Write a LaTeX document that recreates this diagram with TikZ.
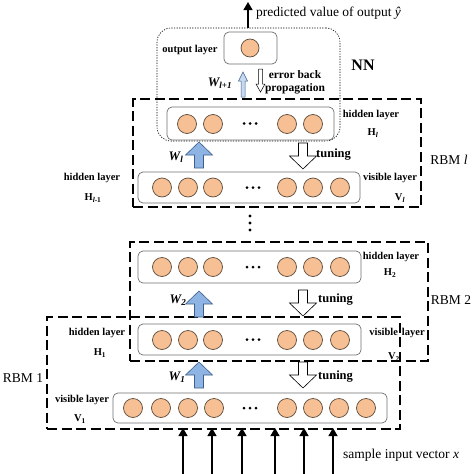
\documentclass[tikz,border=0pt]{standalone}
\usepackage{fontspec}
\setmainfont{Liberation Serif}
\usepackage{tikz}
\usetikzlibrary{arrows.meta, positioning}
\definecolor{unitFill}{HTML}{F7BF94}
\definecolor{unitEdge}{HTML}{5B4B3B}
\definecolor{layerGray}{HTML}{6E6E6E}
\definecolor{wBlue}{HTML}{8DB4E2}
\definecolor{wBlueEdge}{HTML}{3F5F8A}
\definecolor{wLight}{HTML}{C6D9F0}

\begin{document}
\begin{tikzpicture}[x=1pt, y=-1pt,
  layer/.style={draw=layerGray, rounded corners=5pt, line width=0.7pt, inner sep=0pt},
  unit/.style={circle, draw=unitEdge, fill=unitFill, minimum size=19pt, inner sep=0pt, line width=0.7pt},
  rbm/.style={draw, line width=2pt, dash pattern=on 10pt off 4.5pt, inner sep=0pt},
  lbl/.style={font=\fontsize{10.5}{12}\selectfont\bfseries, inner sep=0pt},
  big/.style={font=\fontsize{13.5}{15}\selectfont, inner sep=0pt},
  wlbl/.style={font=\fontsize{13}{14}\selectfont\bfseries\itshape, inner sep=0pt},
  tune/.style={font=\fontsize{12.5}{14}\selectfont\bfseries, anchor=west, inner sep=0pt},
  inarrow/.style={-{Triangle[length=8pt, width=9pt]}, line width=1.2pt},
  wup/.pic={\draw[line width=0.6pt, draw=wBlueEdge, fill=wBlue]
    (-4.5,0) -- (-4.5,-13) -- (-13.5,-13) -- (0,-26) -- (13.5,-13) -- (4.5,-13) -- (4.5,0) -- cycle;},
  tunedown/.pic={\draw[line width=0.6pt, fill=white]
    (-4.5,0) -- (-4.5,13) -- (-13.5,13) -- (0,26) -- (13.5,13) -- (4.5,13) -- (4.5,0) -- cycle;},
  thinup/.pic={\draw[line width=0.5pt, draw=wBlueEdge, fill=wLight]
    (-2,0) -- (-2,-16) -- (-4.5,-16) -- (0,-25) -- (4.5,-16) -- (2,-16) -- (2,0) -- cycle;},
  thindown/.pic={\draw[line width=0.5pt, fill=white]
    (-2,0) -- (-2,15) -- (-4.5,15) -- (0,23) -- (4.5,15) -- (2,15) -- (2,0) -- cycle;}
]
  \useasboundingbox (0,0) rectangle (474,474);

  % RBM frames
  \node[rbm, minimum width=288pt, minimum height=108pt] (rbml) at (277,153) {};
  \node[rbm, minimum width=298pt, minimum height=119pt] (rbm2) at (279,301.5) {};
  \node[rbm, minimum width=353pt, minimum height=112pt] (rbm1) at (223.5,373) {};

  % NN part
  \node[draw, line width=0.6pt, dash pattern=on 1.2pt off 1.4pt, rounded corners=14pt,
        minimum width=183pt, minimum height=113pt, inner sep=0pt] (nn) at (248.5,84.5) {};
  \node[layer, minimum width=53pt, minimum height=32pt] (outl) at (250.5,48) {};
  \node[unit, minimum size=18pt] (out-1) at (250,48) {};
  \node[lbl] (outtxt) at (190,50) {output layer};
  \node[big, font=\fontsize{16}{18}\selectfont\bfseries] (nntxt) at (363,65) {NN};
  \pic at (243,97) {thinup};
  \pic at (260.5,69) {thindown};
  \node[wlbl] (wtop) at (220,83) {W\textsubscript{\textit{l}+1}};
  \node[lbl, font=\fontsize{11.5}{13}\selectfont\bfseries, align=center] (errtxt) at (295,82) {error back\\propagation};
  \coordinate (ytop) at (248,2);
  \draw[inarrow] (nn.north -| ytop) -- (ytop);
  \node[big, anchor=west] (predtxt) at (256,13) {predicted value of output \textit{ŷ}};

  % RBM l
  \node[layer, minimum width=167pt, minimum height=33pt] (hl) at (250.5,123.5) {};
  \foreach \x [count=\i] in {187,213,287,313}
    \node[unit] (hl-\i) at (\x,124) {};
  \node[layer, minimum width=222pt, minimum height=31pt] (vl) at (249,187.5) {};
  \foreach \x [count=\i] in {162,188,213,287,313,340}
    \node[unit] (vl-\i) at (\x,187.5) {};
  \node[lbl] (hltxt) at (371,115) {hidden layer};
  \node[lbl] (hlname) at (373,133) {H\textsubscript{\textit{l}}};
  \node[lbl] (vlltxt) at (92,178) {hidden layer};
  \node[lbl] (vllname) at (93,198) {H\textsubscript{\textit{l}-1}};
  \node[lbl] (vlrtxt) at (390,178) {visible layer};
  \node[lbl] (vlrname) at (400,198) {V\textsubscript{\textit{l}}};
  \pic at (199,168) {wup};
  \pic at (303,143) {tunedown};
  \node[wlbl] (wl) at (176,157) {W\textsubscript{\textit{l}}};
  \node[tune] (tunel) at (316,155) {tuning};
  \node[big] (rbmltxt) at (449,160) {RBM \textit{l}};

  % vertical dots
  \foreach \y in {216,223,230}
    \fill (250,\y) circle (1.6pt);

  % RBM 2
  \node[layer, minimum width=223pt, minimum height=32pt] (h2) at (249.5,267) {};
  \foreach \x [count=\i] in {162,188,213,287,313,340}
    \node[unit] (h2-\i) at (\x,267) {};
  \node[lbl] (h2txt) at (391,257) {hidden layer};
  \node[lbl] (h2name) at (390,273) {H\textsubscript{2}};
  \pic at (199,317) {wup};
  \pic at (303,290) {tunedown};
  \node[wlbl] (w2) at (178,300) {W\textsubscript{2}};
  \node[tune] (tune2) at (318,300) {tuning};
  \node[big] (rbm2txt) at (451,300) {RBM 2};

  % RBM 1
  \node[layer, minimum width=223pt, minimum height=31pt] (h1) at (249.5,339.5) {};
  \foreach \x [count=\i] in {162,188,213,287,313,340}
    \node[unit] (h1-\i) at (\x,340) {};
  \node[lbl] (h1ltxt) at (97,333) {hidden layer};
  \node[lbl] (h1lname) at (100,353) {H\textsubscript{1}};
  \node[lbl] (h1rtxt) at (397,333) {visible\hspace{4pt}layer};
  \node[lbl] (h1rname) at (394,357) {V\textsubscript{2}};
  \pic at (199,388) {wup};
  \pic at (303,362) {tunedown};
  \node[wlbl] (w1) at (177,377) {W\textsubscript{1}};
  \node[tune] (tune1) at (318,377) {tuning};
  \node[big] (rbm1txt) at (23,378) {RBM 1};

  \node[layer, minimum width=274pt, minimum height=30pt] (v1) at (250,408) {};
  \foreach \x [count=\i] in {133,161,188,214,287,313,339,366}
    \node[unit] (v1-\i) at (\x,408) {};
  \node[lbl] (v1txt) at (82,400) {visible layer};
  \node[lbl] (v1name) at (80,419) {V\textsubscript{1}};

  % dots inside the layers
  \foreach \row/\cx in {hl/250,vl/253,h2/253,h1/253,v1/250}
    \foreach \d in {-6,0,6}
      \fill (\cx+\d,0 |- \row.center) circle (1.5pt);

  % input vector
  \foreach \x in {183,212,242,275,304,333}
    \draw[inarrow] (\x,474) -- (\x,428);
  \node[big, anchor=west] (intxt) at (343,455) {sample input vector \textit{x}};
\end{tikzpicture}
\end{document}
